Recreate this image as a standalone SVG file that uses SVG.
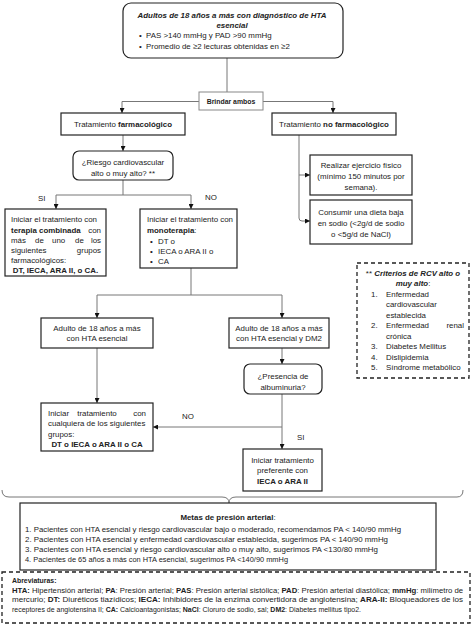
<svg xmlns="http://www.w3.org/2000/svg" width="474" height="625" viewBox="0 0 474 625">
<style>
text{font-family:"Liberation Sans",Arial,sans-serif;font-size:7.9px;fill:#222}
.c{text-anchor:middle}
.e{text-anchor:end}
.b{font-weight:bold}
.bi{font-weight:bold;font-style:italic}
.i{font-style:italic}
.box{fill:#fff;stroke:#222;stroke-width:1.2}
.dash{fill:#fff;stroke:#222;stroke-width:1.3;stroke-dasharray:4 3}
.con{fill:none;stroke:#777;stroke-width:1}
.sm{font-size:6.9px}
.mt{font-size:7.4px}
</style>
<defs>
<marker id="ah" viewBox="0 0 10 10" refX="10" refY="5" markerWidth="5" markerHeight="5" markerUnits="userSpaceOnUse" orient="auto"><path d="M0,0 L10,5 L0,10z" fill="#111"/></marker>
</defs>

<g id="connectors">
<path class="con" d="M227,58 V92"/>
<path class="con" d="M199,101.5 H122 V113" marker-end="url(#ah)"/>
<path class="con" d="M263,101.5 H333 V113" marker-end="url(#ah)"/>
<path class="con" d="M123,135 V151" marker-end="url(#ah)"/>
<path class="con" d="M123,180 V195"/>
<path class="con" d="M56,195 H191"/>
<path class="con" d="M56,195 V209" marker-end="url(#ah)"/>
<path class="con" d="M191,195 V209" marker-end="url(#ah)"/>
<path class="con" d="M191,268 V295"/>
<path class="con" d="M97,295 H282"/>
<path class="con" d="M97,295 V318" marker-end="url(#ah)"/>
<path class="con" d="M282,295 V318" marker-end="url(#ah)"/>
<path class="con" d="M282,348 V364" marker-end="url(#ah)"/>
<path class="con" d="M97,348 V403" marker-end="url(#ah)"/>
<path class="con" d="M282,394 V449" marker-end="url(#ah)"/>
<path class="con" d="M282,427 H153" marker-end="url(#ah)"/>
<path class="con" d="M299,135 V218 Q299,221 302,221 H310" marker-end="url(#ah)"/>
<path class="con" d="M299,175 H310" marker-end="url(#ah)"/>
<path class="con" d="M2,490 Q2,497 9,497 H222 Q229,497 229,503 Q229,497 236,497 H457 Q463,497 463,490"/>
<text x="38" y="201">SI</text>
<text x="205" y="200">NO</text>
<text x="182" y="419">NO</text>
<text x="297" y="440">SI</text>
</g>

<g id="n-inicio">
<rect class="box" x="123" y="3" width="220" height="55" rx="8"/>
<text class="c bi" x="232" y="18">Adultos de 18 años a más con diagnóstico de HTA</text>
<text class="c bi" x="232" y="28">esencial</text>
<text x="139" y="38">•</text><text x="146" y="38">PAS &gt;140 mmHg y PAD &gt;90 mmHg</text>
<text x="139" y="48.5">•</text><text x="146" y="48.5">Promedio de ≥2 lecturas obtenidas en ≥2</text>
</g>

<g id="n-brindar">
<rect x="199" y="92" width="64" height="18" fill="#fff" stroke="#888" stroke-width="1"/>
<text class="c b sm" x="231" y="103.5">Brindar ambos</text>
</g>

<g id="n-farm">
<rect class="box" x="61" y="113" width="124" height="22"/>
<text class="c" x="123" y="127">Tratamiento <tspan class="b">farmacológico</tspan></text>
</g>

<g id="n-nofarm">
<rect class="box" x="272" y="113" width="124" height="22"/>
<text class="c" x="334" y="127">Tratamiento <tspan class="b">no farmacológico</tspan></text>
</g>

<g id="n-riesgo">
<rect class="box" x="73" y="151" width="100" height="29" rx="6"/>
<text class="c" x="123" y="164.5">¿Riesgo cardiovascular</text>
<text class="c" x="123" y="175.5">alto o muy alto? **</text>
</g>

<g id="n-combinada">
<rect class="box" x="5" y="209" width="101" height="67"/>
<text x="11" y="221.5">Iniciar el tratamiento con</text>
<text x="11" y="233" class="b">terapia combinada</text><text class="e" x="101" y="233">con</text>
<text x="11" y="243">más</text><text x="35" y="243">de</text><text x="52" y="243">uno</text><text x="75" y="243">de</text><text class="e" x="101" y="243">los</text>
<text x="11" y="253">siguientes</text><text class="e" x="101" y="253">grupos</text>
<text x="11" y="263">farmacológicos:</text>
<text class="c b" x="55.5" y="273">DT, IECA, ARA II, o CA.</text>
</g>

<g id="n-mono">
<rect class="box" x="140" y="209" width="97" height="59"/>
<text x="147" y="221.5">Iniciar el tratamiento con</text>
<text x="147" y="233"><tspan class="b">monoterapia</tspan>:</text>
<text x="150" y="243.5">•</text><text x="158" y="243.5">DT o</text>
<text x="150" y="253.5">•</text><text x="158" y="253.5">IECA o ARA II o</text>
<text x="150" y="263.5">•</text><text x="158" y="263.5">CA</text>
</g>

<g id="n-adulto">
<rect class="box" x="41" y="318" width="112" height="30"/>
<text class="c" x="97" y="330.5">Adulto de 18 años a más</text>
<text class="c" x="97" y="341">con HTA esencial</text>
</g>

<g id="n-adulto-dm2">
<rect class="box" x="229" y="318" width="100" height="30"/>
<text class="c" x="279" y="330.5">Adulto de 18 años a más</text>
<text class="c" x="279" y="341">con HTA esencial y DM2</text>
</g>

<g id="n-albuminuria">
<rect class="box" x="244" y="364" width="78" height="30" rx="6"/>
<text class="c" x="283" y="378.5">¿Presencia de</text>
<text class="c" x="283" y="389.5">albuminuria?</text>
</g>

<g id="n-cualquiera">
<rect class="box" x="41" y="403" width="112" height="48"/>
<text x="48" y="415.5">Iniciar</text><text class="c" x="97" y="415.5">tratamiento</text><text class="e" x="146" y="415.5">con</text>
<text x="48" y="426">cualquiera de los siguientes</text>
<text x="48" y="436.5">grupos:</text>
<text class="c b" x="97" y="447">DT o IECA o ARA II o CA</text>
</g>

<g id="n-preferente">
<rect class="box" x="243" y="449" width="79" height="42"/>
<text class="c" x="282.5" y="462.5">Iniciar tratamiento</text>
<text class="c" x="282.5" y="473">preferente con</text>
<text class="c b" x="282.5" y="484">IECA o ARA II</text>
</g>

<g id="n-ejercicio">
<rect class="box" x="310" y="155" width="102" height="40"/>
<text class="c" x="361" y="167.5">Realizar ejercicio físico</text>
<text class="c" x="361" y="178.5">(mínimo 150 minutos por</text>
<text class="c" x="361" y="189.5">semana).</text>
</g>

<g id="n-dieta">
<rect class="box" x="310" y="200" width="102" height="44"/>
<text class="c" x="361" y="214.5">Consumir una dieta baja</text>
<text class="c" x="361" y="225.5">en sodio (&lt;2g/d de sodio</text>
<text class="c" x="361" y="236.5">o &lt;5g/d de NaCl)</text>
</g>

<g id="n-criterios">
<rect class="dash" x="357" y="263" width="112" height="115"/>
<text class="c" x="413" y="275.5">** <tspan class="bi">Criterios de RCV alto o</tspan></text>
<text class="c" x="413" y="286"><tspan class="bi">muy alto</tspan>:</text>
<text x="371" y="296.5">1.</text><text x="386" y="296.5">Enfermedad</text>
<text x="386" y="307">cardiovascular</text>
<text x="386" y="317.5">establecida</text>
<text x="371" y="328">2.</text><text x="386" y="328">Enfermedad</text><text class="e" x="464" y="328">renal</text>
<text x="386" y="338.5">crónica</text>
<text x="371" y="349">3.</text><text x="386" y="349">Diabetes Mellitus</text>
<text x="371" y="359.5">4.</text><text x="386" y="359.5">Dislipidemia</text>
<text x="371" y="370">5.</text><text x="386" y="370">Síndrome metabólico</text>
</g>

<g id="n-metas">
<rect class="box" x="20" y="503" width="416" height="67"/>
<text class="c b" x="228" y="520"><tspan>Metas de presión arterial</tspan><tspan font-weight="normal">:</tspan></text>
<text class="mt" x="25" y="531.5" textLength="376" lengthAdjust="spacingAndGlyphs">1. Pacientes con HTA esencial y riesgo cardiovascular bajo o moderado, recomendamos PA &lt; 140/90 mmHg</text>
<text class="mt" x="25" y="541.5" textLength="363" lengthAdjust="spacingAndGlyphs">2. Pacientes con HTA esencial y enfermedad cardiovascular establecida, sugerimos PA &lt; 140/90 mmHg</text>
<text class="mt" x="25" y="551.5" textLength="353" lengthAdjust="spacingAndGlyphs">3. Pacientes con HTA esencial y riesgo cardiovascular alto o muy alto, sugerimos PA &lt;130/80 mmHg</text>
<text class="mt" x="25" y="561.5" textLength="263" lengthAdjust="spacingAndGlyphs">4. Pacientes de 65 años a más con HTA esencial, sugerimos PA &lt;140/90 mmHg</text>
</g>

<g id="n-abreviaturas">
<rect class="dash" x="2" y="572" width="468" height="51"/>
<text class="b sm" x="12" y="582.5">Abreviaturas:</text>
<text class="sm" x="12" y="592.5" textLength="451" lengthAdjust="spacingAndGlyphs"><tspan class="b">HTA:</tspan> Hipertensión arterial; <tspan class="b">PA</tspan>: Presión arterial; <tspan class="b">PAS</tspan>: Presión arterial sistólica; <tspan class="b">PAD</tspan>: Presión arterial diastólica; <tspan class="b">mmHg</tspan>: milímetro de</text>
<text class="sm" x="12" y="602" textLength="451" lengthAdjust="spacingAndGlyphs">mercurio; <tspan class="b">DT:</tspan> Diuréticos tiazídicos; <tspan class="b">IECA:</tspan> Inhibidores de la enzima convertidora de angiotensina; <tspan class="b">ARA-II:</tspan> Bloqueadores de los</text>
<text class="sm" x="12" y="611.5" textLength="349" lengthAdjust="spacingAndGlyphs">receptores de angiotensina II; <tspan class="b">CA:</tspan> Calcioantagonistas; <tspan class="b">NaCl</tspan>: Cloruro de sodio, sal; <tspan class="b">DM2</tspan>: Diabetes mellitus tipo2.</text>
</g>
</svg>
